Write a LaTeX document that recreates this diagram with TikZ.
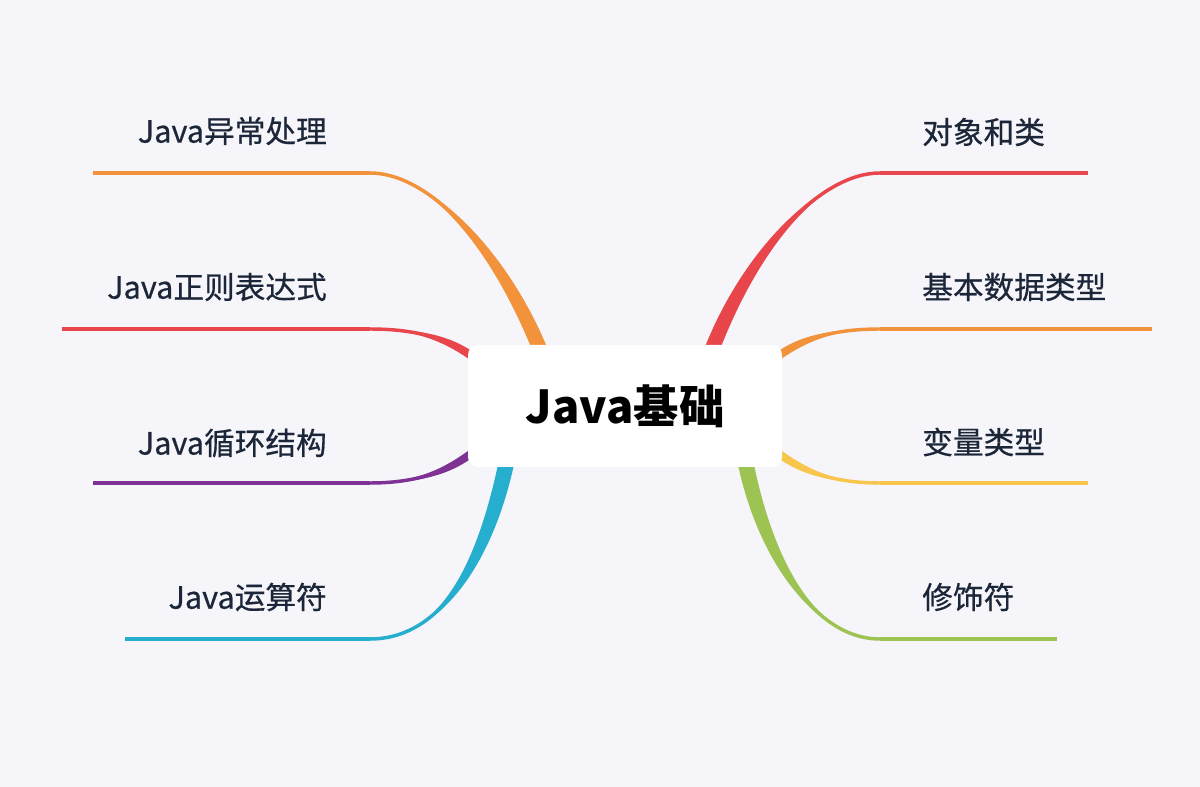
\documentclass[tikz,border=0pt]{standalone}
\usepackage{fontspec}
\setmainfont{Noto Sans CJK SC}
\newfontfamily\lblfont[FakeBold=0.6]{Noto Sans CJK SC}
\usetikzlibrary{calc}
\definecolor{bgc}{HTML}{F5F5FA}
\definecolor{txt}{HTML}{1C2639}
\definecolor{corange}{HTML}{F2933C}
\definecolor{cred}{HTML}{E8464A}
\definecolor{cpurple}{HTML}{7E3294}
\definecolor{ccyan}{HTML}{25AECD}
\definecolor{cyellow}{HTML}{F8C64C}
\definecolor{cgreen}{HTML}{9DC453}
\tikzset{
  lbl/.style={font=\lblfont\fontsize{23}{28}\selectfont, text=txt, inner sep=0pt},
  hub/.style={rounded corners=7.5pt, fill=white, minimum width=235.5pt, minimum height=91.5pt, inner sep=0pt,
              font=\fontsize{34}{40}\selectfont\bfseries, text=black},
  twig/.style={line width=2.6pt},
}
% #1 colour, #2 free end, #3 joint, #4 c1, #5 c2, #6 hub end, #7 half width offset
\newcommand\mmbranch[7]{%
  \fill[#1] (#3) .. controls (#4) and ($(#5)+(#7)$) .. ($(#6)+(#7)$)
     -- ($(#6)-(#7)$) .. controls ($(#5)-(#7)$) and (#4) .. (#3) -- cycle;
  \draw[#1, twig] (#3) .. controls (#4) and (#5) .. (#6);
  \draw[#1, twig] (#2) -- (#3);
}
\begin{document}
\begin{tikzpicture}[x=0.75pt, y=-0.75pt]
\fill[bgc] (0,0) rectangle (1200,787);
\useasboundingbox (0,0) rectangle (1200,787);

% coordinates
\coordinate (eL1) at (93,173);  \coordinate (jL1) at (370,173); \coordinate (pL1) at (541,352);
\coordinate (eL2) at (62,329);  \coordinate (jL2) at (370,329); \coordinate (pL2) at (476,359);
\coordinate (eL3) at (93,483);  \coordinate (jL3) at (370,483); \coordinate (pL3) at (476,450);
\coordinate (eL4) at (125,639); \coordinate (jL4) at (370,639); \coordinate (pL4) at (507,460);
\coordinate (eR1) at (1088,173); \coordinate (jR1) at (880,173); \coordinate (pR1) at (711,352);
\coordinate (eR2) at (1152,329); \coordinate (jR2) at (880,329); \coordinate (pR2) at (774,359);
\coordinate (eR3) at (1088,483); \coordinate (jR3) at (880,483); \coordinate (pR3) at (774,450);
\coordinate (eR4) at (1057,639); \coordinate (jR4) at (880,639); \coordinate (pR4) at (745,460);

% branches
\mmbranch{corange}{eL1}{jL1}{430,173}{500,250}{pL1}{8,0}
\mmbranch{cred}{eL2}{jL2}{420,329}{450,340}{pL2}{0,5}
\mmbranch{cpurple}{eL3}{jL3}{420,483}{450,470}{pL3}{0,5}
\mmbranch{ccyan}{eL4}{jL4}{440,639}{485,565}{pL4}{8,0}
\mmbranch{cred}{eR1}{jR1}{820,173}{750,250}{pR1}{8,0}
\mmbranch{corange}{eR2}{jR2}{830,329}{800,340}{pR2}{0,5}
\mmbranch{cyellow}{eR3}{jR3}{830,483}{800,470}{pR3}{0,5}
\mmbranch{cgreen}{eR4}{jR4}{815,639}{765,560}{pR4}{8,0}

% hub
\node[hub] (center) at (625,406) {Java基础};

% labels
\node[lbl, anchor=east] (tL1) at (327,131) {Java异常处理};
\node[lbl, anchor=east] (tL2) at (327,287) {Java正则表达式};
\node[lbl, anchor=east] (tL3) at (327,443) {Java循环结构};
\node[lbl, anchor=east] (tL4) at (327,597) {Java运算符};
\node[lbl, anchor=west] (tR1) at (922,132) {对象和类};
\node[lbl, anchor=west] (tR2) at (922,287) {基本数据类型};
\node[lbl, anchor=west] (tR3) at (922,442) {变量类型};
\node[lbl, anchor=west] (tR4) at (922,597) {修饰符};
\end{tikzpicture}
\end{document}
